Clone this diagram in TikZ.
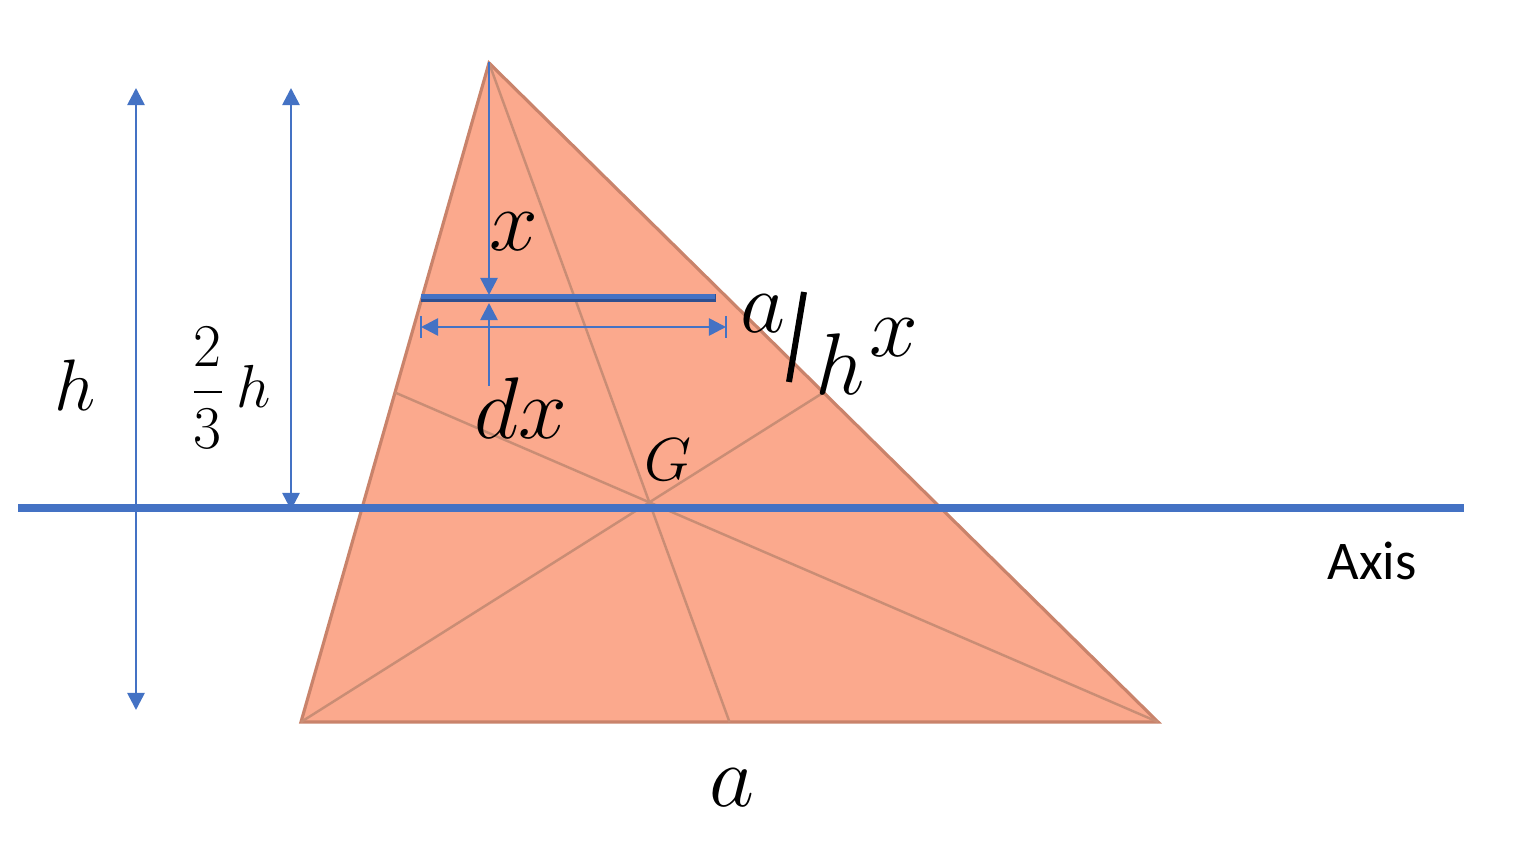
\documentclass[tikz,border=0pt]{standalone}
\usepackage{fontspec}
\newfontfamily\calib{Carlito}
\usetikzlibrary{arrows.meta}
\definecolor{fillsal}{HTML}{FBA98D}
\definecolor{edgesal}{HTML}{C9836B}
\definecolor{medsal}{HTML}{C98D75}
\definecolor{ablue}{HTML}{4472C4}
\definecolor{dblue}{HTML}{2F4F8F}
\tikzset{
  dimarrow/.style={draw=ablue, line width=0.75pt, -{Triangle[length=0.17cm,width=0.17cm]}},
  dimboth/.style={draw=ablue, line width=0.75pt, {Triangle[length=0.17cm,width=0.17cm]}-{Triangle[length=0.17cm,width=0.17cm]}},
  median/.style={draw=medsal, line width=0.7pt},
  lbl/.style={inner sep=0pt, text=black},
}
\begin{document}
\begin{tikzpicture}[x={(0.01cm,0)}, y={(0,-0.01cm)}]
\useasboundingbox (0,0) rectangle (1536,864);
\fill[white] (0,0) rectangle (1536,864);
% vertices
\coordinate (A) at (489,63);
\coordinate (B) at (301,722);
\coordinate (C) at (1158,722);
\coordinate (Mbc) at (729.5,722);
\coordinate (Mac) at (823.5,392.5);
\coordinate (Mab) at (395,392.5);
\coordinate (Gp) at (649.3,502.3);
% triangle
\filldraw[fill=fillsal, draw=edgesal, line width=0.9pt, line join=miter] (A) -- (B) -- (C) -- cycle;
\draw[median] (A) -- (Mbc);
\draw[median] (B) -- (Mac);
\draw[median] (C) -- (Mab);
% axis
\coordinate (axL) at (18,508);
\coordinate (axR) at (1464,508);
\draw[ablue, line width=2.3pt] (axL) -- (axR);
% left dimension arrows
\coordinate (h1) at (136,88);
\coordinate (h2) at (136,710);
\draw[dimboth] (h1) -- (h2);
\coordinate (t1) at (291,88);
\coordinate (t2) at (291,510);
\draw[dimboth] (t1) -- (t2);
% strip
\fill[dblue] (421,294) rectangle (716,302);
\fill[ablue] (421,294.5) rectangle (715,299.5);
% x arrow and dx arrow
\coordinate (xs) at (489,62);
\coordinate (xe) at (489,295);
\draw[dimarrow] (xs) -- (xe);
\coordinate (ds) at (489,386);
\coordinate (de) at (489,303);
\draw[dimarrow] (ds) -- (de);
% width arrow
\coordinate (w1) at (421,327);
\coordinate (w2) at (726,327);
\draw[dimboth] (w1) -- (w2);
\draw[ablue, line width=0.75pt] (421,316) -- (421,338);
\draw[ablue, line width=0.75pt] (726,316) -- (726,338);
% labels
\node[lbl, font=\fontsize{22}{24}\selectfont] (lh) at (75,385) {$h$};
\node[lbl, font=\fontsize{16}{18}\selectfont] (l23) at (230,388) {$\displaystyle\frac{2}{3}\,h$};
\node[lbl, font=\fontsize{24}{26}\selectfont] (lx) at (514,232) {$x$};
\node[lbl, font=\fontsize{24}{26}\selectfont] (ldx) at (521,408) {$dx$};
\node[lbl, font=\fontsize{17}{19}\selectfont] (lG) at (668,460) {$G$};
\node[lbl, font=\fontsize{24}{26}\selectfont] (la) at (732,788) {$a$};
\node[lbl, font=\fontsize{24}{26}\selectfont] (ra) at (763,314) {$a$};
\draw[black, line width=1.7pt] (804,292) -- (789,382);
\node[lbl, font=\fontsize{23}{25}\selectfont] (rh) at (840,364) {$h$};
\node[lbl, font=\fontsize{23}{25}\selectfont] (rx) at (894,338) {$x$};
\node[lbl, font=\calib\fontsize{15.5}{17}\selectfont] (lax) at (1372,561) {Axis};
\end{tikzpicture}
\end{document}
